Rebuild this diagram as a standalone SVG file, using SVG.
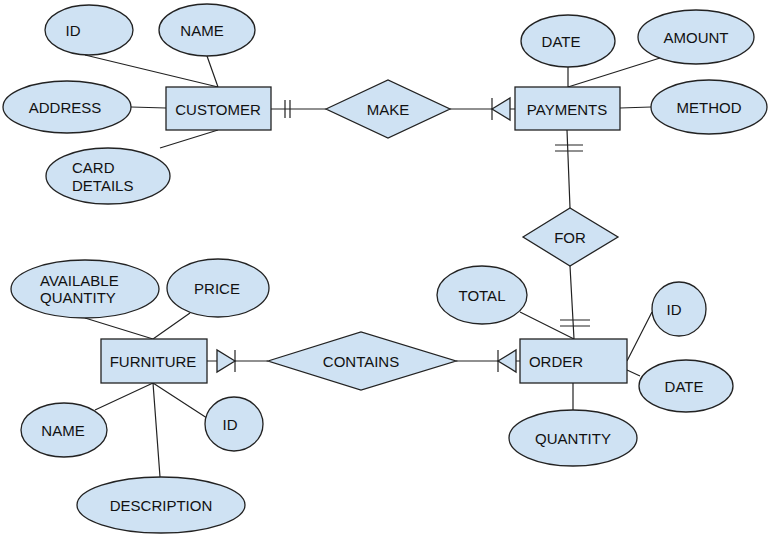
<svg xmlns="http://www.w3.org/2000/svg" width="778" height="550" viewBox="0 0 778 550">
<style>
.s{fill:#cfe2f3;stroke:#222;stroke-width:1.3}
.l{stroke:#222;stroke-width:1.2;fill:none}
text{font-family:"Liberation Sans",Arial,sans-serif;font-size:15px;fill:#111;text-anchor:middle;dominant-baseline:central}
</style>
<rect width="778" height="550" fill="#fff"/>
<g id="connectors">
<path class="l" d="M85 55L218 87M207 56L218 87M131 107L166 108M160 148L218 130M271 109H326M285 100V118M290 100V118M450 109H515M568 67V87M660 58L568 87M620 108L651 107M567 130L570 208M555 145H583M555 151H583M570 266L574 339M560 320H590M560 326H590M520 312L574 339M652 312L627 361M640 376L627 370M573 410V383M85 318L153 339M190 313L153 339M95 410L153 383M210 420L153 383M160 477L153 383M207 361H268M456 361H520"/>
<path class="s" d="M492 109L510 98V120Z"/><path class="l" d="M492 98V120"/>
<path class="s" d="M235 361L217 350V372Z"/><path class="l" d="M235 350V372"/>
<path class="s" d="M498 361L516 350V372Z"/><path class="l" d="M498 350V372"/>
</g>
<g id="customer"><rect class="s" x="166" y="87" width="105" height="43"/><text x="218" y="109">CUSTOMER</text></g>
<g id="payments"><rect class="s" x="515" y="87" width="105" height="43"/><text x="567" y="109">PAYMENTS</text></g>
<g id="order"><rect class="s" x="520" y="339" width="107" height="44"/><text x="556" y="361">ORDER</text></g>
<g id="furniture"><rect class="s" x="101" y="339" width="106" height="44"/><text x="153" y="361">FURNITURE</text></g>
<g id="make"><path class="s" d="M326 109L388 80L450 109L388 138Z"/><text x="388" y="109">MAKE</text></g>
<g id="for"><path class="s" d="M523 237L570 208L618 237L570 266Z"/><text x="570" y="237">FOR</text></g>
<g id="contains"><path class="s" d="M268 361L361 332L456 361L361 390Z"/><text x="361" y="361">CONTAINS</text></g>
<g id="c-id"><ellipse class="s" cx="89" cy="30" rx="44" ry="25"/><text x="73" y="30">ID</text></g>
<g id="c-name"><ellipse class="s" cx="207" cy="30" rx="48" ry="26"/><text x="202" y="30">NAME</text></g>
<g id="c-address"><ellipse class="s" cx="67" cy="107" rx="64" ry="26"/><text x="65" y="107">ADDRESS</text></g>
<g id="c-card"><ellipse class="s" cx="108" cy="176" rx="62" ry="28"/><text x="94" y="167" style="text-anchor:start" dx="-22">CARD</text><text x="72" y="185" style="text-anchor:start">DETAILS</text></g>
<g id="p-date"><ellipse class="s" cx="568" cy="41" rx="47" ry="26"/><text x="561" y="41">DATE</text></g>
<g id="p-amount"><ellipse class="s" cx="696" cy="37" rx="58" ry="27"/><text x="696" y="37">AMOUNT</text></g>
<g id="p-method"><ellipse class="s" cx="709" cy="107" rx="58" ry="27"/><text x="709" y="107">METHOD</text></g>
<g id="o-total"><ellipse class="s" cx="482" cy="295" rx="45" ry="29"/><text x="482" y="295">TOTAL</text></g>
<g id="o-id"><ellipse class="s" cx="679" cy="309" rx="27" ry="27"/><text x="674" y="309">ID</text></g>
<g id="o-date"><ellipse class="s" cx="686" cy="386" rx="47" ry="26"/><text x="684" y="386">DATE</text></g>
<g id="o-quantity"><ellipse class="s" cx="573" cy="438" rx="64" ry="28"/><text x="573" y="438">QUANTITY</text></g>
<g id="f-avail"><ellipse class="s" cx="85" cy="289" rx="74" ry="29"/><text x="40" y="280" style="text-anchor:start">AVAILABLE</text><text x="40" y="297" style="text-anchor:start">QUANTITY</text></g>
<g id="f-price"><ellipse class="s" cx="218" cy="288" rx="51" ry="29"/><text x="217" y="288">PRICE</text></g>
<g id="f-name"><ellipse class="s" cx="64" cy="430" rx="43" ry="27"/><text x="63" y="430">NAME</text></g>
<g id="f-id"><ellipse class="s" cx="234" cy="424" rx="29" ry="27"/><text x="230" y="424">ID</text></g>
<g id="f-desc"><ellipse class="s" cx="161" cy="505" rx="84" ry="28"/><text x="161" y="505">DESCRIPTION</text></g>
</svg>
